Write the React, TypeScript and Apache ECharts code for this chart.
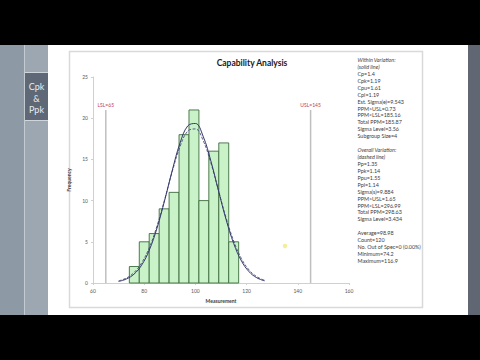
import React, { useEffect, useRef } from "react";
import * as echarts from "echarts";

// Histogram bins (edges) and counts
const binEdges = [74.2, 78.08, 81.96, 85.85, 89.73, 93.61, 97.49, 101.37, 105.25, 109.14, 113.02, 116.9];
const counts = [2, 5, 6, 9, 11, 18, 21, 10, 16, 17, 5];

// Fitted curves
const curveX = [70, 73, 76, 79, 82, 85, 88, 91, 94, 97, 100, 103, 106, 109, 112, 115, 118, 121, 124, 127];
const withinY = [0.19, 0.48, 1.07, 2.17, 4.0, 6.66, 10.04, 13.72, 16.99, 19.06, 19.36, 17.82, 14.86, 11.22, 7.68, 4.76, 2.67, 1.36, 0.63, 0.26];
const overallY = [0.26, 0.59, 1.26, 2.44, 4.3, 6.92, 10.14, 13.57, 16.56, 18.43, 18.7, 17.31, 14.61, 11.25, 7.9, 5.06, 2.95, 1.57, 0.76, 0.34];

// Spec limits
const lsl = 65;
const usl = 145;
const specTop = 21;

const statsLines = [
  "Within Variation:",
  "(solid line)",
  "Cp=1.4",
  "Cpk=1.19",
  "Cpu=1.61",
  "Cpl=1.19",
  "Est. Sigma(e)=9.543",
  "PPM>USL=0.73",
  "PPM<LSL=185.16",
  "Total PPM=185.87",
  "Sigma Level=3.56",
  "Subgroup Size=4",
  "",
  "Overall Variation:",
  "(dashed line)",
  "Pp=1.35",
  "Ppk=1.14",
  "Ppu=1.55",
  "Ppl=1.14",
  "Sigma(s)=9.884",
  "PPM>USL=1.65",
  "PPM<LSL=296.99",
  "Total PPM=298.63",
  "Sigma Level=3.434",
  "",
  "Average=98.98",
  "Count=120",
  "No. Out of Spec=0 (0.00%)",
  "Minimum=74.2",
  "Maximum=116.9",
];
const italicLines = ["Within Variation:", "(solid line)", "Overall Variation:", "(dashed line)"];

const sideLabels = ["Cpk", "&", "Ppk"];

export default function App() {
  const ref = useRef<HTMLDivElement>(null);
  useEffect(() => {
    if (!ref.current) return;
    const chart = echarts.init(ref.current, undefined, { renderer: "svg" });
    const font = "Lato, 'Open Sans', sans-serif";

    const graphics: any[] = [
      { type: "rect", shape: { x: 0, y: 45, width: 24, height: 270 }, style: { fill: "#8d99a5" }, z: -10 },
      { type: "rect", shape: { x: 24, y: 45, width: 1, height: 270 }, style: { fill: "#c3cad1" }, z: -10 },
      { type: "rect", shape: { x: 25, y: 45, width: 23, height: 270 }, style: { fill: "#9ca7b2" }, z: -10 },
      { type: "rect", shape: { x: 25, y: 73, width: 23, height: 47 }, style: { fill: "#5e6876" }, z: -9 },
      { type: "rect", shape: { x: 25, y: 72, width: 23, height: 1 }, style: { fill: "#cfd5db" }, z: -9 },
      { type: "rect", shape: { x: 25, y: 120, width: 23, height: 1 }, style: { fill: "#cfd5db" }, z: -9 },
      { type: "rect", shape: { x: 48, y: 45, width: 420, height: 270 }, style: { fill: "#ffffff" }, z: -10 },
      { type: "rect", shape: { x: 468, y: 45, width: 12, height: 270 }, style: { fill: "#606672" }, z: -10 },
      { type: "rect", shape: { x: 69.5, y: 51.5, width: 353, height: 256 }, style: { fill: "#ffffff", stroke: "#d9d9d9", lineWidth: 1.5 }, z: -8 },
      {
        type: "text",
        x: 252,
        y: 63,
        style: { text: "Capability Analysis", fontSize: 8.5, fontWeight: "bold", fontFamily: font, fill: "#1a1a1a", align: "center", verticalAlign: "middle" },
      },
      { type: "circle", shape: { cx: 285, cy: 246, r: 2.2 }, style: { fill: "#f2ee9a" } },
    ];
    sideLabels.forEach((t, i) => {
      graphics.push({
        type: "text",
        x: 36.5,
        y: [86.7, 98.3, 109.3][i],
        style: { text: t, fontSize: 9, fontFamily: font, fill: "#e9edf1", align: "center", verticalAlign: "middle" },
      });
    });
    statsLines.forEach((t, i) => {
      if (!t) return;
      graphics.push({
        type: "text",
        x: 357.5,
        y: 60 + i * 6.93,
        style: {
          text: t,
          fontSize: 5.4,
          fontFamily: font,
          fontStyle: italicLines.includes(t) ? "italic" : "normal",
          fill: "#404040",
          align: "left",
          verticalAlign: "middle",
        },
      });
    });

    const histData = counts.map((c, i) => [binEdges[i], binEdges[i + 1], c]);

    chart.setOption({
      animation: false,
      backgroundColor: "#000000",
      grid: { left: 93, top: 77, width: 256, height: 206 },
      xAxis: {
        type: "value",
        min: 60,
        max: 160,
        interval: 20,
        name: "Measurement",
        nameLocation: "middle",
        nameGap: 15,
        nameTextStyle: { fontSize: 5, fontWeight: "bold", color: "#404040", fontFamily: font },
        axisLine: { show: true, onZero: false, lineStyle: { color: "#d0d0d0", width: 1 } },
        axisTick: { show: true, length: 2, lineStyle: { color: "#d0d0d0" } },
        axisLabel: { fontSize: 5, color: "#595959", margin: 5, fontFamily: font },
        splitLine: { show: false },
      },
      yAxis: {
        type: "value",
        min: 0,
        max: 25,
        interval: 5,
        name: "Frequency",
        nameLocation: "middle",
        nameGap: 13,
        nameRotate: 90,
        nameTextStyle: { fontSize: 5, fontWeight: "bold", color: "#404040", fontFamily: font },
        axisLine: { show: true, lineStyle: { color: "#d0d0d0", width: 1 } },
        axisTick: { show: true, length: 2, lineStyle: { color: "#d0d0d0" } },
        axisLabel: { fontSize: 5, color: "#595959", margin: 5, fontFamily: font },
        splitLine: { show: false },
      },
      graphic: graphics,
      series: [
        {
          type: "custom",
          data: histData,
          encode: { x: [0, 1], y: 2 },
          renderItem: (params: any, api: any) => {
            const p0 = api.coord([api.value(0), api.value(2)]);
            const p1 = api.coord([api.value(1), 0]);
            return {
              type: "rect",
              shape: { x: p0[0], y: p0[1], width: p1[0] - p0[0], height: p1[1] - p0[1] },
              style: { fill: "#c9f2c9", stroke: "#3d6b3d", lineWidth: 0.9 },
            };
          },
          z: 2,
        },
        {
          type: "line",
          data: [[lsl, 0], [lsl, specTop]],
          showSymbol: false,
          lineStyle: { color: "#bfbfbf", width: 1.5 },
          markPoint: {
            symbol: "circle",
            symbolSize: 0,
            data: [{ coord: [lsl, specTop], value: "LSL=65" }],
            label: { show: true, position: "top", distance: 2, formatter: "LSL=65", fontSize: 5, color: "#c0395a", fontFamily: font },
          },
          z: 1,
        },
        {
          type: "line",
          data: [[usl, 0], [usl, specTop]],
          showSymbol: false,
          lineStyle: { color: "#bfbfbf", width: 1.5 },
          markPoint: {
            symbol: "circle",
            symbolSize: 0,
            data: [{ coord: [usl, specTop], value: "USL=145" }],
            label: { show: true, position: "top", distance: 2, formatter: "USL=145", fontSize: 5, color: "#c0395a", fontFamily: font },
          },
          z: 1,
        },
        {
          type: "line",
          data: curveX.map((x, i) => [x, overallY[i]]),
          smooth: 0.4,
          showSymbol: false,
          lineStyle: { color: "#4a4f7a", width: 0.9, type: [3, 1.5] },
          z: 3,
        },
        {
          type: "line",
          data: curveX.map((x, i) => [x, withinY[i]]),
          smooth: 0.4,
          showSymbol: false,
          lineStyle: { color: "#33376a", width: 1 },
          z: 4,
        },
      ],
    });
    return () => chart.dispose();
  }, []);
  return <div ref={ref} style={{ position: "fixed", left: 0, top: 0, width: 480, height: 360 }} />;
}
